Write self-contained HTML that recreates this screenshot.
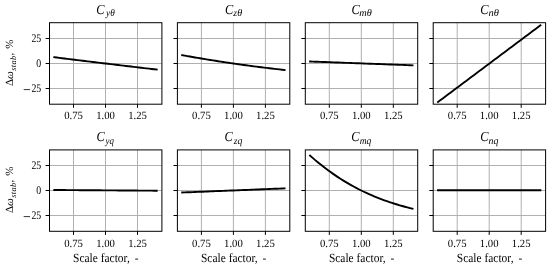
<!DOCTYPE html><html><head><meta charset="utf-8"><title>Scale factor sensitivity</title><style>html,body{margin:0;padding:0;background:#fff;}svg{display:block;}text{font-family:'Liberation Serif', 'DejaVu Serif', serif;fill:#000;text-rendering:geometricPrecision;}</style></head><body>
<svg width="550" height="267" viewBox="0 0 550 267">
<rect width="550" height="267" fill="#fff"/>
<line x1="73.50" y1="22.70" x2="73.50" y2="104.20" stroke="#b0b0b0" stroke-width="1"/>
<line x1="105.50" y1="22.70" x2="105.50" y2="104.20" stroke="#b0b0b0" stroke-width="1"/>
<line x1="137.50" y1="22.70" x2="137.50" y2="104.20" stroke="#b0b0b0" stroke-width="1"/>
<line x1="49.50" y1="38.50" x2="161.90" y2="38.50" stroke="#b0b0b0" stroke-width="1"/>
<line x1="49.50" y1="63.50" x2="161.90" y2="63.50" stroke="#b0b0b0" stroke-width="1"/>
<line x1="49.50" y1="88.50" x2="161.90" y2="88.50" stroke="#b0b0b0" stroke-width="1"/>
<polyline points="54.30,57.24 56.86,57.56 59.42,57.88 61.98,58.19 64.54,58.51 67.10,58.83 69.66,59.14 72.22,59.46 74.78,59.77 77.34,60.08 79.90,60.40 82.46,60.71 85.02,61.02 87.58,61.33 90.14,61.64 92.70,61.95 95.26,62.26 97.82,62.57 100.38,62.88 102.94,63.19 105.50,63.50 108.06,63.81 110.62,64.12 113.18,64.42 115.74,64.73 118.30,65.03 120.86,65.34 123.42,65.64 125.98,65.95 128.54,66.25 131.10,66.56 133.66,66.86 136.22,67.16 138.78,67.46 141.34,67.76 143.90,68.07 146.46,68.37 149.02,68.67 151.58,68.97 154.14,69.27 156.70,69.56" fill="none" stroke="#000" stroke-width="1.9" stroke-linecap="square" stroke-linejoin="round"/>
<rect x="49.50" y="22.70" width="112.40" height="81.50" fill="none" stroke="#000" stroke-width="1"/>
<line x1="73.50" y1="104.20" x2="73.50" y2="107.80" stroke="#000" stroke-width="1"/>
<line x1="105.50" y1="104.20" x2="105.50" y2="107.80" stroke="#000" stroke-width="1"/>
<line x1="137.50" y1="104.20" x2="137.50" y2="107.80" stroke="#000" stroke-width="1"/>
<line x1="45.60" y1="38.50" x2="49.50" y2="38.50" stroke="#000" stroke-width="1"/>
<line x1="45.60" y1="63.50" x2="49.50" y2="63.50" stroke="#000" stroke-width="1"/>
<line x1="45.60" y1="88.50" x2="49.50" y2="88.50" stroke="#000" stroke-width="1"/>
<text transform="translate(73.50,119.35) scale(1,1.03)" font-size="10.7" text-anchor="middle">0.75</text>
<text transform="translate(105.50,119.35) scale(1,1.03)" font-size="10.7" text-anchor="middle">1.00</text>
<text transform="translate(137.50,119.35) scale(1,1.03)" font-size="10.7" text-anchor="middle">1.25</text>
<text transform="translate(41.30,42.40) scale(0.93,1.1)" font-size="10.6" text-anchor="end">25</text>
<text transform="translate(41.30,67.40) scale(0.93,1.1)" font-size="10.6" text-anchor="end">0</text>
<text transform="translate(41.30,92.40) scale(0.93,1.1)" font-size="10.6" text-anchor="end"><tspan font-size="14.6" dy="2.3">−</tspan><tspan dy="-2.3" dx="0.9">25</tspan></text>
<text transform="translate(13.3,86.10) rotate(-90)" font-size="11">Δ<tspan font-style="italic">ω</tspan><tspan font-style="italic" font-size="8.3" dy="2.4" dx="0.5" letter-spacing="0.35">stab</tspan><tspan dy="-2.4" dx="0.1">,</tspan><tspan dx="1.2"> %</tspan></text>
<text transform="translate(96.29,14.00) scale(0.95,1.06)" font-size="13" font-style="italic">C</text>
<text transform="translate(106.03,16.40) scale(0.968,1.05)" font-size="9.6" font-style="italic">yθ</text>
<line x1="201.40" y1="22.70" x2="201.40" y2="104.20" stroke="#b0b0b0" stroke-width="1"/>
<line x1="233.40" y1="22.70" x2="233.40" y2="104.20" stroke="#b0b0b0" stroke-width="1"/>
<line x1="265.40" y1="22.70" x2="265.40" y2="104.20" stroke="#b0b0b0" stroke-width="1"/>
<line x1="177.40" y1="38.50" x2="289.80" y2="38.50" stroke="#b0b0b0" stroke-width="1"/>
<line x1="177.40" y1="63.50" x2="289.80" y2="63.50" stroke="#b0b0b0" stroke-width="1"/>
<line x1="177.40" y1="88.50" x2="289.80" y2="88.50" stroke="#b0b0b0" stroke-width="1"/>
<polyline points="182.20,55.20 184.76,55.66 187.32,56.11 189.88,56.56 192.44,57.01 195.00,57.45 197.56,57.88 200.12,58.31 202.68,58.74 205.24,59.16 207.80,59.58 210.36,59.99 212.92,60.40 215.48,60.80 218.04,61.20 220.60,61.59 223.16,61.98 225.72,62.37 228.28,62.75 230.84,63.13 233.40,63.50 235.96,63.87 238.52,64.23 241.08,64.59 243.64,64.94 246.20,65.29 248.76,65.64 251.32,65.98 253.88,66.32 256.44,66.65 259.00,66.98 261.56,67.30 264.12,67.62 266.68,67.93 269.24,68.24 271.80,68.55 274.36,68.85 276.92,69.14 279.48,69.43 282.04,69.72 284.60,70.00" fill="none" stroke="#000" stroke-width="1.9" stroke-linecap="square" stroke-linejoin="round"/>
<rect x="177.40" y="22.70" width="112.40" height="81.50" fill="none" stroke="#000" stroke-width="1"/>
<line x1="201.40" y1="104.20" x2="201.40" y2="107.80" stroke="#000" stroke-width="1"/>
<line x1="233.40" y1="104.20" x2="233.40" y2="107.80" stroke="#000" stroke-width="1"/>
<line x1="265.40" y1="104.20" x2="265.40" y2="107.80" stroke="#000" stroke-width="1"/>
<line x1="173.50" y1="38.50" x2="177.40" y2="38.50" stroke="#000" stroke-width="1"/>
<line x1="173.50" y1="63.50" x2="177.40" y2="63.50" stroke="#000" stroke-width="1"/>
<line x1="173.50" y1="88.50" x2="177.40" y2="88.50" stroke="#000" stroke-width="1"/>
<text transform="translate(201.40,119.35) scale(1,1.03)" font-size="10.7" text-anchor="middle">0.75</text>
<text transform="translate(233.40,119.35) scale(1,1.03)" font-size="10.7" text-anchor="middle">1.00</text>
<text transform="translate(265.40,119.35) scale(1,1.03)" font-size="10.7" text-anchor="middle">1.25</text>
<text transform="translate(224.99,14.00) scale(0.95,1.06)" font-size="13" font-style="italic">C</text>
<text transform="translate(233.33,16.40) scale(1.051,1.05)" font-size="9.6" font-style="italic">zθ</text>
<line x1="329.30" y1="22.70" x2="329.30" y2="104.20" stroke="#b0b0b0" stroke-width="1"/>
<line x1="361.30" y1="22.70" x2="361.30" y2="104.20" stroke="#b0b0b0" stroke-width="1"/>
<line x1="393.30" y1="22.70" x2="393.30" y2="104.20" stroke="#b0b0b0" stroke-width="1"/>
<line x1="305.30" y1="38.50" x2="417.70" y2="38.50" stroke="#b0b0b0" stroke-width="1"/>
<line x1="305.30" y1="63.50" x2="417.70" y2="63.50" stroke="#b0b0b0" stroke-width="1"/>
<line x1="305.30" y1="88.50" x2="417.70" y2="88.50" stroke="#b0b0b0" stroke-width="1"/>
<polyline points="310.10,61.50 312.66,61.59 315.22,61.69 317.78,61.78 320.34,61.88 322.90,61.98 325.46,62.07 328.02,62.16 330.58,62.26 333.14,62.35 335.70,62.45 338.26,62.55 340.82,62.64 343.38,62.73 345.94,62.83 348.50,62.92 351.06,63.02 353.62,63.12 356.18,63.21 358.74,63.30 361.30,63.40 363.86,63.49 366.42,63.59 368.98,63.69 371.54,63.78 374.10,63.88 376.66,63.97 379.22,64.06 381.78,64.16 384.34,64.25 386.90,64.35 389.46,64.44 392.02,64.54 394.58,64.64 397.14,64.73 399.70,64.83 402.26,64.92 404.82,65.02 407.38,65.11 409.94,65.20 412.50,65.30" fill="none" stroke="#000" stroke-width="1.9" stroke-linecap="square" stroke-linejoin="round"/>
<rect x="305.30" y="22.70" width="112.40" height="81.50" fill="none" stroke="#000" stroke-width="1"/>
<line x1="329.30" y1="104.20" x2="329.30" y2="107.80" stroke="#000" stroke-width="1"/>
<line x1="361.30" y1="104.20" x2="361.30" y2="107.80" stroke="#000" stroke-width="1"/>
<line x1="393.30" y1="104.20" x2="393.30" y2="107.80" stroke="#000" stroke-width="1"/>
<line x1="301.40" y1="38.50" x2="305.30" y2="38.50" stroke="#000" stroke-width="1"/>
<line x1="301.40" y1="63.50" x2="305.30" y2="63.50" stroke="#000" stroke-width="1"/>
<line x1="301.40" y1="88.50" x2="305.30" y2="88.50" stroke="#000" stroke-width="1"/>
<text transform="translate(329.30,119.35) scale(1,1.03)" font-size="10.7" text-anchor="middle">0.75</text>
<text transform="translate(361.30,119.35) scale(1,1.03)" font-size="10.7" text-anchor="middle">1.00</text>
<text transform="translate(393.30,119.35) scale(1,1.03)" font-size="10.7" text-anchor="middle">1.25</text>
<text transform="translate(351.59,14.00) scale(0.95,1.06)" font-size="13" font-style="italic">C</text>
<text transform="translate(359.30,16.40) scale(1.073,1.05)" font-size="9.6" font-style="italic">mθ</text>
<line x1="457.20" y1="22.70" x2="457.20" y2="104.20" stroke="#b0b0b0" stroke-width="1"/>
<line x1="489.20" y1="22.70" x2="489.20" y2="104.20" stroke="#b0b0b0" stroke-width="1"/>
<line x1="521.20" y1="22.70" x2="521.20" y2="104.20" stroke="#b0b0b0" stroke-width="1"/>
<line x1="433.20" y1="38.50" x2="545.60" y2="38.50" stroke="#b0b0b0" stroke-width="1"/>
<line x1="433.20" y1="63.50" x2="545.60" y2="63.50" stroke="#b0b0b0" stroke-width="1"/>
<line x1="433.20" y1="88.50" x2="545.60" y2="88.50" stroke="#b0b0b0" stroke-width="1"/>
<polyline points="438.00,102.00 440.56,100.08 443.12,98.16 445.68,96.25 448.24,94.33 450.80,92.41 453.36,90.50 455.92,88.58 458.48,86.66 461.04,84.74 463.60,82.83 466.16,80.91 468.72,78.99 471.28,77.07 473.84,75.16 476.40,73.24 478.96,71.32 481.52,69.40 484.08,67.49 486.64,65.57 489.20,63.65 491.76,61.73 494.32,59.81 496.88,57.90 499.44,55.98 502.00,54.06 504.56,52.15 507.12,50.23 509.68,48.31 512.24,46.39 514.80,44.48 517.36,42.56 519.92,40.64 522.48,38.72 525.04,36.81 527.60,34.89 530.16,32.97 532.72,31.05 535.28,29.14 537.84,27.22 540.40,25.30" fill="none" stroke="#000" stroke-width="1.9" stroke-linecap="square" stroke-linejoin="round"/>
<rect x="433.20" y="22.70" width="112.40" height="81.50" fill="none" stroke="#000" stroke-width="1"/>
<line x1="457.20" y1="104.20" x2="457.20" y2="107.80" stroke="#000" stroke-width="1"/>
<line x1="489.20" y1="104.20" x2="489.20" y2="107.80" stroke="#000" stroke-width="1"/>
<line x1="521.20" y1="104.20" x2="521.20" y2="107.80" stroke="#000" stroke-width="1"/>
<line x1="429.30" y1="38.50" x2="433.20" y2="38.50" stroke="#000" stroke-width="1"/>
<line x1="429.30" y1="63.50" x2="433.20" y2="63.50" stroke="#000" stroke-width="1"/>
<line x1="429.30" y1="88.50" x2="433.20" y2="88.50" stroke="#000" stroke-width="1"/>
<text transform="translate(457.20,119.35) scale(1,1.03)" font-size="10.7" text-anchor="middle">0.75</text>
<text transform="translate(489.20,119.35) scale(1,1.03)" font-size="10.7" text-anchor="middle">1.00</text>
<text transform="translate(521.20,119.35) scale(1,1.03)" font-size="10.7" text-anchor="middle">1.25</text>
<text transform="translate(480.29,14.00) scale(0.95,1.06)" font-size="13" font-style="italic">C</text>
<text transform="translate(488.49,16.40) scale(1.093,1.05)" font-size="9.6" font-style="italic">nθ</text>
<line x1="73.50" y1="149.90" x2="73.50" y2="231.30" stroke="#b0b0b0" stroke-width="1"/>
<line x1="105.50" y1="149.90" x2="105.50" y2="231.30" stroke="#b0b0b0" stroke-width="1"/>
<line x1="137.50" y1="149.90" x2="137.50" y2="231.30" stroke="#b0b0b0" stroke-width="1"/>
<line x1="49.50" y1="165.50" x2="161.90" y2="165.50" stroke="#b0b0b0" stroke-width="1"/>
<line x1="49.50" y1="190.50" x2="161.90" y2="190.50" stroke="#b0b0b0" stroke-width="1"/>
<line x1="49.50" y1="215.50" x2="161.90" y2="215.50" stroke="#b0b0b0" stroke-width="1"/>
<polyline points="54.30,190.00 56.86,190.02 59.42,190.03 61.98,190.05 64.54,190.07 67.10,190.09 69.66,190.10 72.22,190.12 74.78,190.14 77.34,190.16 79.90,190.18 82.46,190.19 85.02,190.21 87.58,190.23 90.14,190.25 92.70,190.26 95.26,190.28 97.82,190.30 100.38,190.31 102.94,190.33 105.50,190.35 108.06,190.37 110.62,190.38 113.18,190.40 115.74,190.42 118.30,190.44 120.86,190.46 123.42,190.47 125.98,190.49 128.54,190.51 131.10,190.53 133.66,190.54 136.22,190.56 138.78,190.58 141.34,190.59 143.90,190.61 146.46,190.63 149.02,190.65 151.58,190.66 154.14,190.68 156.70,190.70" fill="none" stroke="#000" stroke-width="1.9" stroke-linecap="square" stroke-linejoin="round"/>
<rect x="49.50" y="149.90" width="112.40" height="81.40" fill="none" stroke="#000" stroke-width="1"/>
<line x1="73.50" y1="231.30" x2="73.50" y2="234.90" stroke="#000" stroke-width="1"/>
<line x1="105.50" y1="231.30" x2="105.50" y2="234.90" stroke="#000" stroke-width="1"/>
<line x1="137.50" y1="231.30" x2="137.50" y2="234.90" stroke="#000" stroke-width="1"/>
<line x1="45.60" y1="165.50" x2="49.50" y2="165.50" stroke="#000" stroke-width="1"/>
<line x1="45.60" y1="190.50" x2="49.50" y2="190.50" stroke="#000" stroke-width="1"/>
<line x1="45.60" y1="215.50" x2="49.50" y2="215.50" stroke="#000" stroke-width="1"/>
<text transform="translate(73.50,246.80) scale(1,1.03)" font-size="10.7" text-anchor="middle">0.75</text>
<text transform="translate(105.50,246.80) scale(1,1.03)" font-size="10.7" text-anchor="middle">1.00</text>
<text transform="translate(137.50,246.80) scale(1,1.03)" font-size="10.7" text-anchor="middle">1.25</text>
<text transform="translate(41.30,169.40) scale(0.93,1.1)" font-size="10.6" text-anchor="end">25</text>
<text transform="translate(41.30,194.40) scale(0.93,1.1)" font-size="10.6" text-anchor="end">0</text>
<text transform="translate(41.30,219.40) scale(0.93,1.1)" font-size="10.6" text-anchor="end"><tspan font-size="14.6" dy="2.3">−</tspan><tspan dy="-2.3" dx="0.9">25</tspan></text>
<text transform="translate(13.3,213.10) rotate(-90)" font-size="11">Δ<tspan font-style="italic">ω</tspan><tspan font-style="italic" font-size="8.3" dy="2.4" dx="0.5" letter-spacing="0.35">stab</tspan><tspan dy="-2.4" dx="0.1">,</tspan><tspan dx="1.2"> %</tspan></text>
<text transform="translate(96.39,141.30) scale(0.95,1.06)" font-size="13" font-style="italic">C</text>
<text transform="translate(105.49,143.80) scale(0.926,1.05)" font-size="9.6" font-style="italic">yq</text>
<text transform="translate(73.10,261.6) scale(1,1.1)" font-size="11.45">Scale factor,</text>
<text transform="translate(134.70,261.6) scale(1,1.1)" font-size="11.3">-</text>
<line x1="201.40" y1="149.90" x2="201.40" y2="231.30" stroke="#b0b0b0" stroke-width="1"/>
<line x1="233.40" y1="149.90" x2="233.40" y2="231.30" stroke="#b0b0b0" stroke-width="1"/>
<line x1="265.40" y1="149.90" x2="265.40" y2="231.30" stroke="#b0b0b0" stroke-width="1"/>
<line x1="177.40" y1="165.50" x2="289.80" y2="165.50" stroke="#b0b0b0" stroke-width="1"/>
<line x1="177.40" y1="190.50" x2="289.80" y2="190.50" stroke="#b0b0b0" stroke-width="1"/>
<line x1="177.40" y1="215.50" x2="289.80" y2="215.50" stroke="#b0b0b0" stroke-width="1"/>
<polyline points="182.20,192.50 184.76,192.40 187.32,192.29 189.88,192.19 192.44,192.09 195.00,191.99 197.56,191.88 200.12,191.78 202.68,191.68 205.24,191.58 207.80,191.47 210.36,191.37 212.92,191.27 215.48,191.17 218.04,191.06 220.60,190.96 223.16,190.86 225.72,190.76 228.28,190.66 230.84,190.55 233.40,190.45 235.96,190.35 238.52,190.25 241.08,190.14 243.64,190.04 246.20,189.94 248.76,189.84 251.32,189.73 253.88,189.63 256.44,189.53 259.00,189.43 261.56,189.32 264.12,189.22 266.68,189.12 269.24,189.02 271.80,188.91 274.36,188.81 276.92,188.71 279.48,188.60 282.04,188.50 284.60,188.40" fill="none" stroke="#000" stroke-width="1.9" stroke-linecap="square" stroke-linejoin="round"/>
<rect x="177.40" y="149.90" width="112.40" height="81.40" fill="none" stroke="#000" stroke-width="1"/>
<line x1="201.40" y1="231.30" x2="201.40" y2="234.90" stroke="#000" stroke-width="1"/>
<line x1="233.40" y1="231.30" x2="233.40" y2="234.90" stroke="#000" stroke-width="1"/>
<line x1="265.40" y1="231.30" x2="265.40" y2="234.90" stroke="#000" stroke-width="1"/>
<line x1="173.50" y1="165.50" x2="177.40" y2="165.50" stroke="#000" stroke-width="1"/>
<line x1="173.50" y1="190.50" x2="177.40" y2="190.50" stroke="#000" stroke-width="1"/>
<line x1="173.50" y1="215.50" x2="177.40" y2="215.50" stroke="#000" stroke-width="1"/>
<text transform="translate(201.40,246.80) scale(1,1.03)" font-size="10.7" text-anchor="middle">0.75</text>
<text transform="translate(233.40,246.80) scale(1,1.03)" font-size="10.7" text-anchor="middle">1.00</text>
<text transform="translate(265.40,246.80) scale(1,1.03)" font-size="10.7" text-anchor="middle">1.25</text>
<text transform="translate(224.49,141.30) scale(0.95,1.06)" font-size="13" font-style="italic">C</text>
<text transform="translate(233.63,143.80) scale(1.015,1.05)" font-size="9.6" font-style="italic">zq</text>
<text transform="translate(201.00,261.6) scale(1,1.1)" font-size="11.45">Scale factor,</text>
<text transform="translate(262.60,261.6) scale(1,1.1)" font-size="11.3">-</text>
<line x1="329.30" y1="149.90" x2="329.30" y2="231.30" stroke="#b0b0b0" stroke-width="1"/>
<line x1="361.30" y1="149.90" x2="361.30" y2="231.30" stroke="#b0b0b0" stroke-width="1"/>
<line x1="393.30" y1="149.90" x2="393.30" y2="231.30" stroke="#b0b0b0" stroke-width="1"/>
<line x1="305.30" y1="165.50" x2="417.70" y2="165.50" stroke="#b0b0b0" stroke-width="1"/>
<line x1="305.30" y1="190.50" x2="417.70" y2="190.50" stroke="#b0b0b0" stroke-width="1"/>
<line x1="305.30" y1="215.50" x2="417.70" y2="215.50" stroke="#b0b0b0" stroke-width="1"/>
<polyline points="310.10,155.64 312.66,157.90 315.22,160.10 317.78,162.24 320.34,164.33 322.90,166.35 325.46,168.32 328.02,170.24 330.58,172.09 333.14,173.90 335.70,175.65 338.26,177.35 340.82,179.00 343.38,180.60 345.94,182.15 348.50,183.66 351.06,185.12 353.62,186.53 356.18,187.90 358.74,189.22 361.30,190.50 363.86,191.74 366.42,192.94 368.98,194.10 371.54,195.22 374.10,196.30 376.66,197.35 379.22,198.36 381.78,199.33 384.34,200.28 386.90,201.19 389.46,202.07 392.02,202.92 394.58,203.73 397.14,204.52 399.70,205.29 402.26,206.02 404.82,206.73 407.38,207.42 409.94,208.08 412.50,208.72" fill="none" stroke="#000" stroke-width="1.9" stroke-linecap="square" stroke-linejoin="round"/>
<rect x="305.30" y="149.90" width="112.40" height="81.40" fill="none" stroke="#000" stroke-width="1"/>
<line x1="329.30" y1="231.30" x2="329.30" y2="234.90" stroke="#000" stroke-width="1"/>
<line x1="361.30" y1="231.30" x2="361.30" y2="234.90" stroke="#000" stroke-width="1"/>
<line x1="393.30" y1="231.30" x2="393.30" y2="234.90" stroke="#000" stroke-width="1"/>
<line x1="301.40" y1="165.50" x2="305.30" y2="165.50" stroke="#000" stroke-width="1"/>
<line x1="301.40" y1="190.50" x2="305.30" y2="190.50" stroke="#000" stroke-width="1"/>
<line x1="301.40" y1="215.50" x2="305.30" y2="215.50" stroke="#000" stroke-width="1"/>
<text transform="translate(329.30,246.80) scale(1,1.03)" font-size="10.7" text-anchor="middle">0.75</text>
<text transform="translate(361.30,246.80) scale(1,1.03)" font-size="10.7" text-anchor="middle">1.00</text>
<text transform="translate(393.30,246.80) scale(1,1.03)" font-size="10.7" text-anchor="middle">1.25</text>
<text transform="translate(351.19,141.30) scale(0.95,1.06)" font-size="13" font-style="italic">C</text>
<text transform="translate(359.73,143.80) scale(0.989,1.05)" font-size="9.6" font-style="italic">mq</text>
<text transform="translate(328.90,261.6) scale(1,1.1)" font-size="11.45">Scale factor,</text>
<text transform="translate(390.50,261.6) scale(1,1.1)" font-size="11.3">-</text>
<line x1="457.20" y1="149.90" x2="457.20" y2="231.30" stroke="#b0b0b0" stroke-width="1"/>
<line x1="489.20" y1="149.90" x2="489.20" y2="231.30" stroke="#b0b0b0" stroke-width="1"/>
<line x1="521.20" y1="149.90" x2="521.20" y2="231.30" stroke="#b0b0b0" stroke-width="1"/>
<line x1="433.20" y1="165.50" x2="545.60" y2="165.50" stroke="#b0b0b0" stroke-width="1"/>
<line x1="433.20" y1="190.50" x2="545.60" y2="190.50" stroke="#b0b0b0" stroke-width="1"/>
<line x1="433.20" y1="215.50" x2="545.60" y2="215.50" stroke="#b0b0b0" stroke-width="1"/>
<polyline points="438.00,190.30 440.56,190.30 443.12,190.30 445.68,190.30 448.24,190.30 450.80,190.30 453.36,190.30 455.92,190.30 458.48,190.30 461.04,190.30 463.60,190.30 466.16,190.30 468.72,190.30 471.28,190.30 473.84,190.30 476.40,190.30 478.96,190.30 481.52,190.30 484.08,190.30 486.64,190.30 489.20,190.30 491.76,190.30 494.32,190.30 496.88,190.30 499.44,190.30 502.00,190.30 504.56,190.30 507.12,190.30 509.68,190.30 512.24,190.30 514.80,190.30 517.36,190.30 519.92,190.30 522.48,190.30 525.04,190.30 527.60,190.30 530.16,190.30 532.72,190.30 535.28,190.30 537.84,190.30 540.40,190.30" fill="none" stroke="#000" stroke-width="1.9" stroke-linecap="square" stroke-linejoin="round"/>
<rect x="433.20" y="149.90" width="112.40" height="81.40" fill="none" stroke="#000" stroke-width="1"/>
<line x1="457.20" y1="231.30" x2="457.20" y2="234.90" stroke="#000" stroke-width="1"/>
<line x1="489.20" y1="231.30" x2="489.20" y2="234.90" stroke="#000" stroke-width="1"/>
<line x1="521.20" y1="231.30" x2="521.20" y2="234.90" stroke="#000" stroke-width="1"/>
<line x1="429.30" y1="165.50" x2="433.20" y2="165.50" stroke="#000" stroke-width="1"/>
<line x1="429.30" y1="190.50" x2="433.20" y2="190.50" stroke="#000" stroke-width="1"/>
<line x1="429.30" y1="215.50" x2="433.20" y2="215.50" stroke="#000" stroke-width="1"/>
<text transform="translate(457.20,246.80) scale(1,1.03)" font-size="10.7" text-anchor="middle">0.75</text>
<text transform="translate(489.20,246.80) scale(1,1.03)" font-size="10.7" text-anchor="middle">1.00</text>
<text transform="translate(521.20,246.80) scale(1,1.03)" font-size="10.7" text-anchor="middle">1.25</text>
<text transform="translate(480.29,141.30) scale(0.95,1.06)" font-size="13" font-style="italic">C</text>
<text transform="translate(488.51,143.80) scale(1.033,1.05)" font-size="9.6" font-style="italic">nq</text>
<text transform="translate(456.80,261.6) scale(1,1.1)" font-size="11.45">Scale factor,</text>
<text transform="translate(518.40,261.6) scale(1,1.1)" font-size="11.3">-</text>
</svg></body></html>
